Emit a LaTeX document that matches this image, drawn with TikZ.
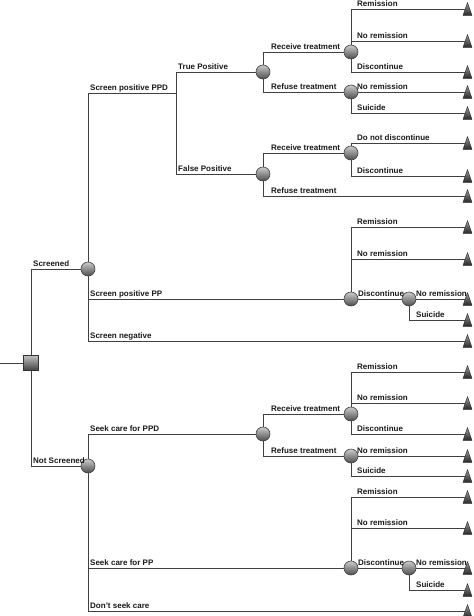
\documentclass[tikz,border=0pt]{standalone}
\usepackage{fontspec}
\setmainfont{Liberation Sans}
\usetikzlibrary{calc,backgrounds}
\newcommand\br[4]{%
  \begin{pgfonlayer}{background}\draw[conn] (#1) |- (#2);\end{pgfonlayer}%
  \node[lab] at ($(#1 |- #2)+(#3,-2.5)$) {#4};}
\begin{document}
\begin{tikzpicture}[x=1pt,y=-1pt,
  conn/.style={draw=black!75, line width=0.9pt},
  chance/.style={circle, minimum size=14pt, inner sep=0pt, draw=black!75, line width=0.6pt, top color=black!20, bottom color=black!70},
  decision/.style={rectangle, minimum size=15pt, inner sep=0pt, draw=black!80, line width=0.6pt, top color=black!25, bottom color=black!75},
  term/.style={coordinate},
  termfill/.style={draw=black!85, line width=0.4pt, line join=round, top color=black!40, bottom color=black!85},
  lab/.style={anchor=base west, inner sep=0pt, font=\bfseries\fontsize{8}{9}\selectfont, text=black!90}]
\useasboundingbox (0,0) rectangle (474,616);
% decision and chance nodes
\coordinate (in) at (0,363);
\node[decision] (D) at (31,363) {};
\node[chance] (C1) at (88,269) {};
\coordinate (J) at (176,93);
\node[chance] (C2) at (263,72) {};
\node[chance] (C3) at (351,52) {};
\node[chance] (C4) at (351,92) {};
\node[chance] (C5) at (263,174) {};
\node[chance] (C6) at (351,153) {};
\node[chance] (C7) at (351,299) {};
\node[chance] (C8) at (409,299) {};
\node[chance] (C9) at (88,466) {};
\node[chance] (C10) at (263,434) {};
\node[chance] (C11) at (351,414) {};
\node[chance] (C12) at (351,456) {};
\node[chance] (C13) at (351,568) {};
\node[chance] (C14) at (409,568) {};
% terminal nodes
\foreach \n/\y in {1/9,2/41,3/72,4/92,5/113,6/143,7/176,8/196,9/227,10/259,11/299,12/320,13/341,14/372,15/403,16/434,17/456,18/476,19/497,20/528,21/568,22/590,23/611}{
  \node[term] (t\n) at (467.5,\y) {};
  \path[termfill] ($(t\n)+(-4.5,6.5)$) -- ($(t\n)+(4.5,6.5)$) -- ($(t\n)+(0,-6.5)$) -- cycle;
}
% connectors
\begin{pgfonlayer}{background}\draw[conn] (in) -- (D);\end{pgfonlayer}
\br{D}{C1}{2}{Screened}
\br{D}{C9}{2}{Not Screened}
\br{C1}{J}{2}{Screen positive PPD}
\br{C1}{C7}{2}{Screen positive PP}
\br{C1}{t13}{2}{Screen negative}
\br{J}{C2}{2}{True Positive}
\br{J}{C5}{2}{False Positive}
\br{C2}{C3}{8}{Receive treatment}
\br{C2}{C4}{8}{Refuse treatment}
\br{C3}{t1}{6}{Remission}
\br{C3}{t2}{6}{No remission}
\br{C3}{t3}{6}{Discontinue}
\br{C4}{t4}{6}{No remission}
\br{C4}{t5}{6}{Suicide}
\br{C5}{C6}{8}{Receive treatment}
\br{C5}{t8}{8}{Refuse treatment}
\br{C6}{t6}{6}{Do not discontinue}
\br{C6}{t7}{6}{Discontinue}
\br{C7}{t9}{6}{Remission}
\br{C7}{t10}{6}{No remission}
\br{C7}{C8}{7}{Discontinue}
\br{C8}{t11}{7}{No remission}
\br{C8}{t12}{7}{Suicide}
\br{C9}{C10}{2}{Seek care for PPD}
\br{C9}{C13}{2}{Seek care for PP}
\br{C9}{t23}{2}{Don't seek care}
\br{C10}{C11}{8}{Receive treatment}
\br{C10}{C12}{8}{Refuse treatment}
\br{C11}{t14}{6}{Remission}
\br{C11}{t15}{6}{No remission}
\br{C11}{t16}{6}{Discontinue}
\br{C12}{t17}{6}{No remission}
\br{C12}{t18}{6}{Suicide}
\br{C13}{t19}{6}{Remission}
\br{C13}{t20}{6}{No remission}
\br{C13}{C14}{7}{Discontinue}
\br{C14}{t21}{7}{No remission}
\br{C14}{t22}{7}{Suicide}
\end{tikzpicture}
\end{document}
